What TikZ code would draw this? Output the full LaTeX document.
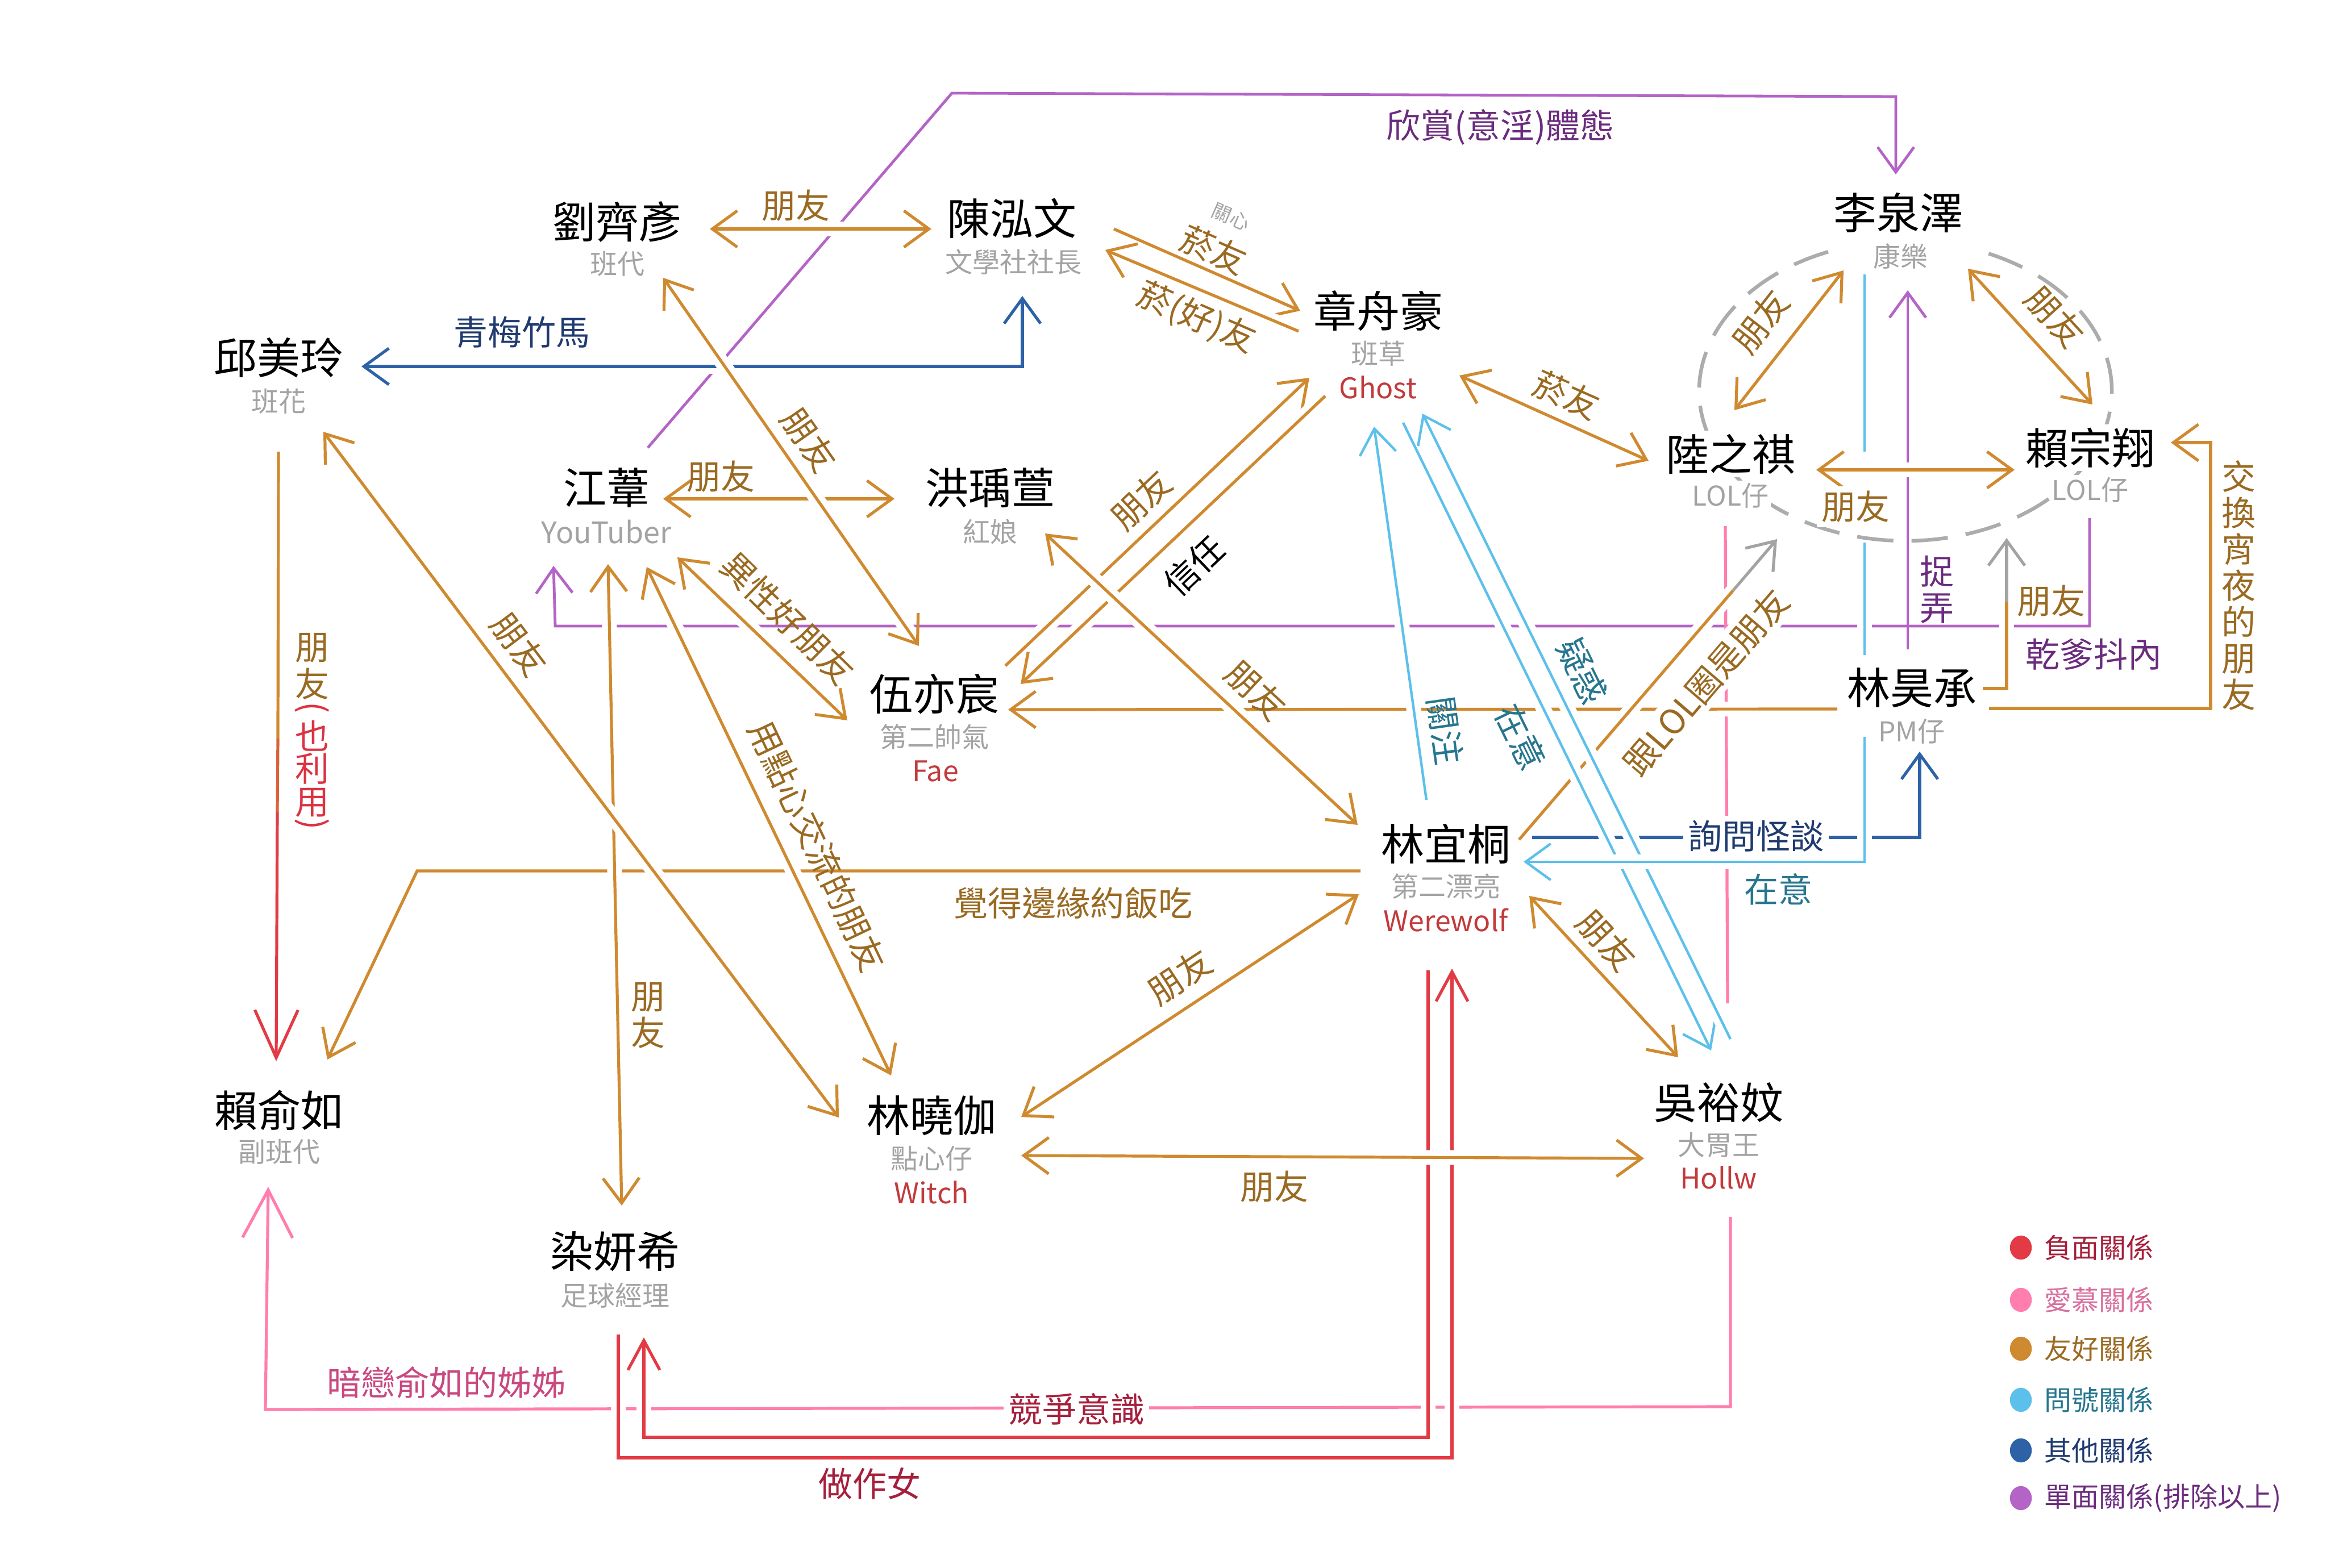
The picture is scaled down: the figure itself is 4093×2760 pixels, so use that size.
\documentclass[tikz,border=0pt]{standalone}
\usepackage{fontspec}
\usepackage{graphicx}
\setmainfont{Noto Sans CJK TC}
\usetikzlibrary{arrows.meta}
\definecolor{cor}{HTML}{CF8A30}
\definecolor{corT}{HTML}{9A6A22}
\definecolor{cred}{HTML}{E23B45}
\definecolor{credT}{HTML}{A61F3C}
\definecolor{credB}{HTML}{DC3242}
\definecolor{cpink}{HTML}{FF7EAE}
\definecolor{cpinkT}{HTML}{C9487F}
\definecolor{cpinkL}{HTML}{D8709E}
\definecolor{clb}{HTML}{5CC0EB}
\definecolor{clbT}{HTML}{27768F}
\definecolor{cdb}{HTML}{2E62A6}
\definecolor{cdbT}{HTML}{1F3B70}
\definecolor{cpu}{HTML}{B463C6}
\definecolor{cpuT}{HTML}{6B2C7E}
\definecolor{cgray}{HTML}{A3A3A3}
\definecolor{cname}{HTML}{C23A3C}
\begin{document}
\begin{tikzpicture}[x=0.25pt,y=-0.25pt,
  >={Straight Barb[length=11pt,width=16pt]},
  halo/.style={preaction={draw=white,line width=6.5pt,-}},
  eor/.style={line width=1.3pt,draw=cor,halo},
  ered/.style={line width=1.3pt,draw=cred,halo,>={Straight Barb[length=13pt,width=14pt]}},
  epk/.style={line width=1.3pt,draw=cpink},
  elb/.style={line width=1.1pt,draw=clb,halo},
  edb/.style={line width=1.3pt,draw=cdb,halo},
  epu/.style={line width=1.2pt,draw=cpu},
  egr/.style={line width=1.3pt,draw=cgray,halo},
  pname/.style={font=\fontsize{19}{21}\selectfont,fill=white,inner sep=1.5pt},
  psub/.style={font=\fontsize{12}{13}\selectfont,text=cgray,fill=white,inner sep=1pt},
  peng/.style={font=\fontsize{12.5}{14}\selectfont,text=cname,inner sep=1pt},
  lab/.style={font=\fontsize{15}{16}\selectfont,inner sep=0.5pt,align=center,text=corT},
  wlab/.style={lab,fill=white,inner sep=2pt},
  legt/.style={font=\fontsize{12}{13}\selectfont,anchor=west,inner sep=0pt}
]
\fill[white] (0,0) rectangle (4093,2760);
\useasboundingbox (0,0) rectangle (4093,2760);

% ---------------- purple (one-sided)
\coordinate (pA1) at (1140,788);
\coordinate (pA2) at (1675,164);
\coordinate (pA3) at (3336,170);
\coordinate (pA4) at (3336,307);
\draw[epu,->] (pA1) -- (pA2) -- (pA3) -- (pA4);
\coordinate (pB1) at (3677,912);
\coordinate (pB2) at (3677,1102);
\coordinate (pB3) at (977,1102);
\coordinate (pB4) at (974,996);
\draw[epu,->] (pB1) -- (pB2) -- (pB3) -- (pB4);
\coordinate (pC1) at (3357,1143);
\coordinate (pC2) at (3357,511);
\draw[epu,->] (pC1) -- (pC2);

% ---------------- pink (love)
\coordinate (kA1) at (3036,926);
\coordinate (kA2) at (3040,1766);
\draw[epk] (kA1) -- (kA2);
\coordinate (kB1) at (3045,2142);
\coordinate (kB2) at (3045,2476);
\coordinate (kB3) at (467,2481);
\coordinate (kB4) at (472,2089);
\draw[epk,->,>={Straight Barb[length=21pt,width=22pt]}] (kB1) -- (kB2) -- (kB3) -- (kB4);

% ---------------- dashed ellipse
\draw[line width=1.6pt,draw=cgray!90,dash pattern=on 16pt off 8pt]
  ([shift={(3353,688)}]112:90.75pt and 66pt) arc[start angle=112,end angle=430,x radius=90.75pt,y radius=66pt];

% ---------------- red (negative)
\coordinate (rA1) at (2513,1708);
\coordinate (rA2) at (2513,2530);
\coordinate (rA3) at (1133,2530);
\coordinate (rA4) at (1133,2354);
\draw[ered,->] (rA1) -- (rA2) -- (rA3) -- (rA4);
\coordinate (rB1) at (1088,2349);
\coordinate (rB2) at (1088,2566);
\coordinate (rB3) at (2555,2566);
\coordinate (rB4) at (2555,1705);
\draw[ered,->] (rB1) -- (rB2) -- (rB3) -- (rB4);

% ---------------- lower layer orange / blue
\coordinate (oJ1) at (2394,1533);
\coordinate (oJ2) at (734,1533);
\coordinate (oJ3) at (576,1865);
\draw[eor,->] (oJ1) -- (oJ2) -- (oJ3);
\coordinate (oH1) at (3233,1248);
\coordinate (oH2) at (1774,1249);
\draw[eor,->] (oH1) -- (oH2);
\coordinate (oE1) at (1167,878);
\coordinate (oE2) at (1574,878);
\draw[eor,<->] (oE1) -- (oE2);
\coordinate (oL1) at (1249,403);
\coordinate (oL2) at (1639,403);
\draw[eor,<->] (oL1) -- (oL2);
\coordinate (oG1) at (2673,1478);
\coordinate (oG2) at (3050,1039);
\coordinate (oG3) at (3127,949);
\draw[eor] (oG1) -- (oG2);
\draw[egr,->] (oG2) -- (oG3);
\coordinate (bQ1) at (636,645);
\coordinate (bQ2) at (1799,645);
\coordinate (bQ3) at (1799,521);
\draw[edb,<->] (bQ1) -- (bQ2) -- (bQ3);
\coordinate (bD1) at (2696,1474);
\coordinate (bD2) at (3378,1474);
\coordinate (bD3) at (3378,1323);
\draw[edb,->] (bD1) -- (bD2) -- (bD3);

% ---------------- light blue (question)
\coordinate (cA1) at (2510,1408);
\coordinate (cA2) at (2418,751);
\draw[elb,->] (cA1) -- (cA2);
\coordinate (cB1) at (2469,744);
\coordinate (cB2) at (3011,1849);
\draw[elb,->] (cB1) -- (cB2);
\coordinate (cC1) at (3045,1829);
\coordinate (cC2) at (2503,728);
\draw[elb,->] (cC1) -- (cC2);
\coordinate (cD1) at (3281,483);
\coordinate (cD2) at (3281,795);
\coordinate (cD3) at (3281,955);
\coordinate (cD4) at (3281,1153);
\coordinate (cD5) at (3281,1297);
\coordinate (cD6) at (3281,1517);
\coordinate (cD7) at (2681,1517);
\draw[elb] (cD1) -- (cD2);
\draw[elb] (cD3) -- (cD4);
\draw[elb,->] (cD5) -- (cD6) -- (cD7);

% ---------------- upper layer orange (friendly)
\coordinate (o1a) at (1167,489);  \coordinate (o1b) at (1617,1137);
\draw[eor,<->] (o1a) -- (o1b);
\coordinate (o2a) at (1960,403);  \coordinate (o2b) at (2288,547);
\draw[eor,->] (o2a) -- (o2b);
\coordinate (o3a) at (2285,583);  \coordinate (o3b) at (1945,440);
\draw[eor,->] (o3a) -- (o3b);
\coordinate (o4a) at (2568,661);  \coordinate (o4b) at (2901,811);
\draw[eor,<->] (o4a) -- (o4b);
\coordinate (o5a) at (1769,1172); \coordinate (o5b) at (2304,665);
\draw[eor,->] (o5a) -- (o5b);
\coordinate (o6a) at (2332,697);  \coordinate (o6b) at (1796,1204);
\draw[eor,->] (o6a) -- (o6b);
\coordinate (o7a) at (1839,939);  \coordinate (o7b) at (2389,1452);
\draw[eor,<->] (o7a) -- (o7b);
\coordinate (o8a) at (1192,981);  \coordinate (o8b) at (1491,1268);
\draw[eor,<->] (o8a) -- (o8b);
\coordinate (o9a) at (1138,998);  \coordinate (o9b) at (1568,1893);
\draw[eor,<->] (o9a) -- (o9b);
\coordinate (o10a) at (1070,993); \coordinate (o10b) at (1094,2122);
\draw[eor,<->] (o10a) -- (o10b);
\coordinate (o11a) at (569,760);  \coordinate (o11b) at (1476,1967);
\draw[eor,<->] (o11a) -- (o11b);
\coordinate (o12a) at (490,795);  \coordinate (o12b) at (489,1300);
\coordinate (o12c) at (488,1430); \coordinate (o12d) at (486,1868);
\draw[eor] (o12a) -- (o12b);
\draw[line width=1.3pt,draw=cor!50!cred] (o12b) -- (o12c);
\draw[line width=1.3pt,draw=cred,->,>={Straight Barb[length=21pt,width=19pt]}] (o12c) -- (o12d);
\coordinate (o13a) at (1797,1966); \coordinate (o13b) at (2391,1574);
\draw[eor,<->] (o13a) -- (o13b);
\coordinate (o14a) at (1797,2034); \coordinate (o14b) at (2893,2039);
\draw[eor,<->] (o14a) -- (o14b);
\coordinate (o15a) at (2691,1577); \coordinate (o15b) at (2953,1861);
\draw[eor,<->] (o15a) -- (o15b);
\coordinate (o16a) at (3196,827);  \coordinate (o16b) at (3545,827);
\draw[eor,<->] (o16a) -- (o16b);
\coordinate (o17a) at (3244,476);  \coordinate (o17b) at (3052,722);
\draw[eor,<->] (o17a) -- (o17b);
\coordinate (o18a) at (3463,473);  \coordinate (o18b) at (3682,712);
\draw[eor,<->] (o18a) -- (o18b);
\coordinate (o19a) at (3489,1212); \coordinate (o19b) at (3531,1212);
\coordinate (o19c) at (3531,1060); \coordinate (o19d) at (3531,947);
\draw[eor] (o19a) -- (o19b) -- (o19c);
\draw[egr,->] (o19c) -- (o19d);
\coordinate (o20a) at (3500,1247); \coordinate (o20b) at (3890,1247);
\coordinate (o20c) at (3890,779);  \coordinate (o20d) at (3820,779);
\draw[eor,->] (o20a) -- (o20b) -- (o20c) -- (o20d);

% ---------------- labels
\node[lab,text=cpuT] (t1) at (2640,224) {欣賞(意淫)體態};
\node[lab] (t2) at (1400,362) {朋友};
\node[lab,text=cdbT] (t3) at (918,585) {青梅竹馬};
\node[lab,rotate=-55] (t4) at (1424,774) {朋友};
\node[lab,rotate=-23.6] (t5) at (2136,440) {菸友};
\node[lab,rotate=-23.6,text=cgray,font=\fontsize{8.5}{9}\selectfont] (t5b) at (2166,382) {關心};
\node[lab,rotate=-23.6] (t6) at (2105,560) {菸(好)友};
\node[lab,rotate=-24] (t7) at (2757,695) {菸友};
\node[lab,rotate=43.5] (t8) at (2008,880) {朋友};
\node[lab,rotate=43.5,text=black] (t9) at (2101,996) {信任};
\node[lab] (t10) at (1268,839) {朋友};
\node[lab,rotate=-43] (t11) at (2210,1215) {朋友};
\node[lab,rotate=-44.5] (t12) at (1386,1088) {異性好朋友};
\node[lab,rotate=-64.5] (t13) at (1438,1489) {用點心交流的朋友};
\node[lab] (t14) at (1140,1787) {朋\\友};
\node[lab,text=cpuT] (t15) at (3684,1152) {乾爹抖內};
\node[lab,text=cpuT] (t16) at (3408,1038) {捉\\弄};
\node[lab,rotate=-53] (t17) at (914,1134) {朋友};
\node[lab] (t18a) at (549,1140) {朋};
\node[lab] (t18b) at (549,1204) {友};
\node[lab,text=credB] (t18c) at (549,1250) {\rotatebox[origin=c]{-90}{(}};
\node[lab,text=credB] (t18d) at (549,1295) {也};
\node[lab,text=credB] (t18e) at (549,1353) {利};
\node[lab,text=credB] (t18f) at (549,1413) {用};
\node[lab,text=credB] (t18g) at (549,1455) {\rotatebox[origin=c]{-90}{)}};
\node[lab] (t19) at (1888,1590) {覺得邊緣約飯吃};
\node[lab,rotate=33.4] (t20) at (2076,1719) {朋友};
\node[lab] (t21) at (2242,2089) {朋友};
\node[lab,rotate=-47.3] (t22) at (2827,1655) {朋友};
\node[wlab,rotate=49.4] (t23) at (3002,1201) {跟LOL圈是朋友};
\node[lab,rotate=-82,text=clbT] (t24) at (2543,1286) {關注};
\node[lab,rotate=-63.9,text=clbT] (t25) at (2676,1297) {在意};
\node[lab,rotate=-63.9,text=clbT] (t26) at (2784,1181) {疑惑};
\node[lab,text=clbT] (t27) at (3129,1565) {在意};
\node[wlab,text=cdbT] (t28) at (3090,1472) {詢問怪談};
\node[wlab] (t29) at (3265,892) {朋友};
\node[lab,rotate=52] (t30) at (3098,566) {朋友};
\node[lab,rotate=-47.5] (t31) at (3616,557) {朋友};
\node[lab] (t33) at (3609,1058) {朋友};
\node[lab] (t34) at (3939,1030) {交\\換\\宵\\夜\\的\\朋\\友};
\node[lab,text=cpinkT] (t37) at (785,2433) {暗戀俞如的姊姊};
\node[wlab,text=credT] (t38) at (1894,2481) {競爭意識};
\node[lab,text=credT] (t39) at (1530,2611) {做作女};

% ---------------- people
\node[pname] (liu) at (1086,390) {劉齊彥};
\node[psub] (liuS) at (1086,464) {班代};
\node[pname] (chen) at (1780,384) {陳泓文};
\node[psub] (chenS) at (1783,461) {文學社社長};
\node[pname] (qiu) at (490,630) {邱美玲};
\node[psub] (qiuS) at (490,706) {班花};
\node[pname] (jiang) at (1067,859) {江葦};
\node[psub,font=\fontsize{13}{14}\selectfont] (jiangS) at (1067,936) {YouTuber};
\node[pname] (hong) at (1742,859) {洪瑀萱};
\node[psub] (hongS) at (1742,936) {紅娘};
\node[pname] (zhang) at (2425,547) {章舟豪};
\node[psub] (zhangS) at (2425,622) {班草};
\node[peng] (zhangE) at (2425,682) {Ghost};
\node[pname] (li) at (3340,374) {李泉澤};
\node[psub] (liS) at (3344,451) {康樂};
\node[pname] (lu) at (3045,799) {陸之祺};
\node[psub] (luS) at (3045,872) {LOL仔};
\node[pname] (laiz) at (3678,788) {賴宗翔};
\node[psub] (laizS) at (3678,862) {LOL仔};
\node[pname] (wu) at (1644,1222) {伍亦宸};
\node[psub] (wuS) at (1644,1297) {第二帥氣};
\node[peng] (wuE) at (1646,1357) {Fae};
\node[pname] (linh) at (3364,1211) {林昊承};
\node[psub] (linhS) at (3364,1287) {PM仔};
\node[pname] (liny) at (2544,1485) {林宜桐};
\node[psub] (linyS) at (2544,1560) {第二漂亮};
\node[peng] (linyE) at (2544,1620) {Werewolf};
\node[pname] (laiy) at (491,1954) {賴俞如};
\node[psub] (laiyS) at (491,2027) {副班代};
\node[pname] (linx) at (1639,1964) {林曉伽};
\node[psub] (linxS) at (1639,2039) {點心仔};
\node[peng] (linxE) at (1639,2099) {Witch};
\node[pname] (wuy) at (3024,1941) {吳裕妏};
\node[psub] (wuyS) at (3024,2015) {大胃王};
\node[peng] (wuyE) at (3024,2073) {Hollw};
\node[pname] (ran) at (1082,2203) {染妍希};
\node[psub] (ranS) at (1082,2280) {足球經理};

% ---------------- legend
\foreach \i/\yy/\dc/\tc/\lt in {1/2196/cred/credT/負面關係,2/2288/cpink/cpinkL/愛慕關係,3/2374/cor/corT/友好關係,4/2464/clb/clbT/問號關係,5/2553/cdb/cdbT/其他關係,6/2637/cpu/cpuT/單面關係(排除以上)}{
  \fill[\dc] (3556,\yy) ellipse[x radius=4.8pt,y radius=5.3pt];
  \node[legt,text=\tc] (leg\i) at (3597,\yy) {\lt};
}
\end{tikzpicture}
\end{document}
